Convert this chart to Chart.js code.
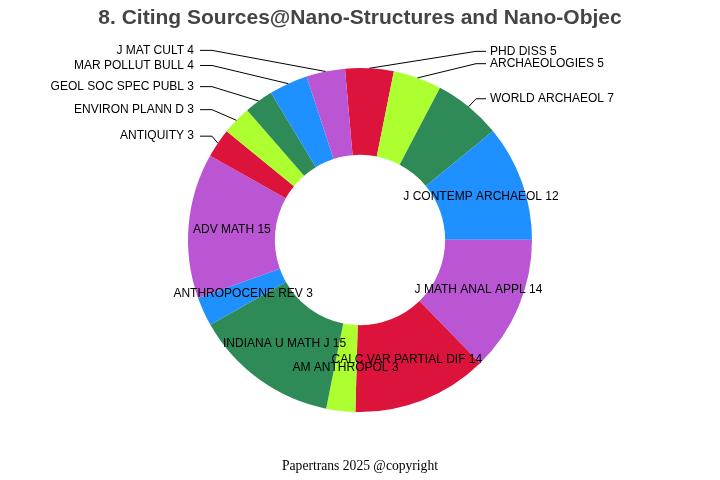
<!DOCTYPE html>
<html>
<head>
<meta charset="utf-8">
<script src="https://cdn.jsdelivr.net/npm/chart.js@4"></script>
<style>
  html, body { margin: 0; padding: 0; background: #fff; }
  #wrap { width: 720px; height: 480px; }
</style>
</head>
<body>
<div id="wrap"><canvas id="pie" width="720" height="480"></canvas></div>
<script>
// ── Data ──────────────────────────────────────────────────
const TITLE = '8. Citing Sources@Nano-Structures and Nano-Objec';
const FOOTER = 'Papertrans 2025 @copyright';

const sources = [
  'PHD DISS', 'ARCHAEOLOGIES', 'WORLD ARCHAEOL', 'J CONTEMP ARCHAEOL',
  'J MATH ANAL APPL', 'CALC VAR PARTIAL DIF', 'AM ANTHROPOL', 'INDIANA U MATH J',
  'ANTHROPOCENE REV', 'ADV MATH', 'ANTIQUITY', 'ENVIRON PLANN D',
  'GEOL SOC SPEC PUBL', 'MAR POLLUT BULL', 'J MAT CULT',
];
const counts = [5, 5, 7, 12, 14, 14, 3, 15, 3, 15, 3, 3, 3, 4, 4];

// labels drawn outside with a leader line
const outsideLabels = [
  'PHD DISS', 'ARCHAEOLOGIES', 'WORLD ARCHAEOL', 'ANTIQUITY',
  'ENVIRON PLANN D', 'GEOL SOC SPEC PUBL', 'MAR POLLUT BULL', 'J MAT CULT',
];

const PALETTE = ['#DC143C', '#ADFF2F', '#2E8B57', '#1E90FF', '#BA55D3'];
const LABEL_FONT = '12px "Liberation Sans", Arial, sans-serif';

// ── Label plugin ──────────────────────────────────────────
const sliceLabels = {
  id: 'sliceLabels',
  afterDatasetsDraw(chart) {
    const ctx = chart.ctx;
    const meta = chart.getDatasetMeta(0);
    ctx.save();
    ctx.font = LABEL_FONT;
    ctx.fillStyle = '#000';
    ctx.strokeStyle = '#000';
    ctx.lineWidth = 1;
    ctx.textBaseline = 'middle';
    meta.data.forEach((arc, i) => {
      const p = arc.getProps(['x', 'y', 'startAngle', 'endAngle', 'innerRadius', 'outerRadius'], true);
      const a = (p.startAngle + p.endAngle) / 2;
      const text = `${sources[i]} ${counts[i]}`;
      if (!outsideLabels.includes(sources[i])) {
        const r = (p.innerRadius + p.outerRadius) / 2;
        ctx.textAlign = 'center';
        ctx.fillText(text, p.x + r * Math.cos(a), p.y + r * Math.sin(a));
        return;
      }
      const ax = p.x + p.outerRadius * Math.cos(a);
      const ay = p.y + p.outerRadius * Math.sin(a);
      const right = Math.cos(a) > 0;
      const up = Math.max(0, -Math.sin(a));
      // lift labels away from the ring, more near the top
      const ly = right ? ay - 17 * up * up * up : ay - 22 * up * up;
      const elbowX = right ? p.x + 116 : p.x - 148;
      const endX = right ? p.x + 126 : p.x - 160;
      const textX = right ? p.x + 130 : p.x - 166;
      ctx.beginPath();
      ctx.moveTo(ax, ay);
      ctx.lineTo(elbowX, ly);
      ctx.lineTo(endX, ly);
      ctx.stroke();
      ctx.textAlign = right ? 'left' : 'right';
      ctx.fillText(text, textX, ly);
    });
    ctx.restore();
  },
  afterDraw(chart) {
    const ctx = chart.ctx;
    ctx.save();
    ctx.textAlign = 'center';
    ctx.textBaseline = 'middle';
    ctx.fillStyle = '#444';
    ctx.font = 'bold 21px "Liberation Sans", Arial, sans-serif';
    ctx.fillText(TITLE, 360, 18);
    ctx.fillStyle = '#000';
    ctx.font = '13.6px "Liberation Serif", "Times New Roman", serif';
    ctx.fillText(FOOTER, 360, 466);
    ctx.restore();
  },
};

new Chart(document.getElementById('pie'), {
  type: 'doughnut',
  data: {
    labels: sources,
    datasets: [{
      data: counts,
      backgroundColor: sources.map((_, i) => PALETTE[i % PALETTE.length]),
      borderWidth: 0,
      hoverOffset: 0,
    }],
  },
  options: {
    responsive: false,
    animation: false,
    cutout: '49.5%',
    rotation: -5,
    layout: { padding: { top: 68, bottom: 68, left: 0, right: 0 } },
    plugins: {
      legend: { display: false },
      title: { display: false },
      tooltip: { enabled: false },
    },
  },
  plugins: [sliceLabels],
});
</script>
</body>
</html>
